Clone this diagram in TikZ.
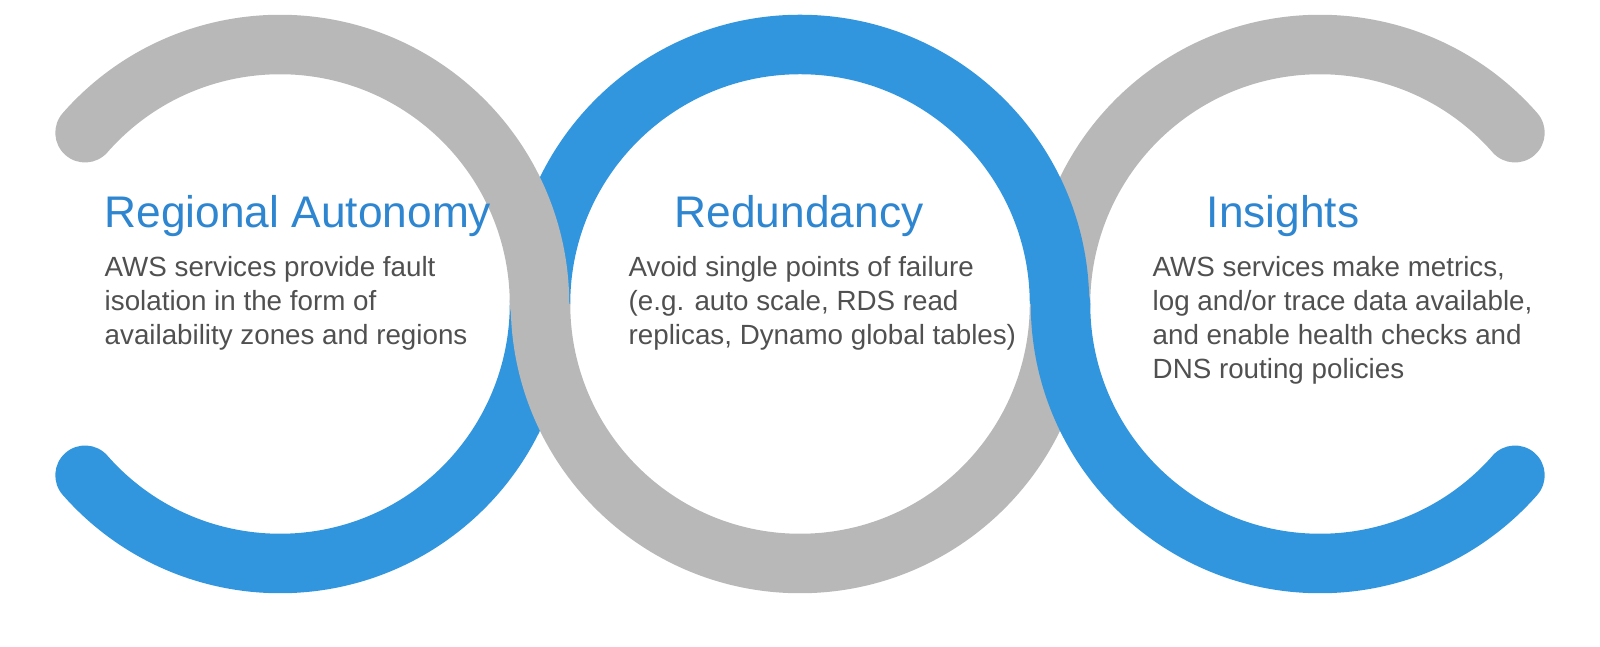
\documentclass[tikz,border=0pt]{standalone}
\usepackage{fontspec}
\setmainfont{Liberation Sans}
\begin{document}
\begin{tikzpicture}
\definecolor{ringblue}{HTML}{3196DD}
\definecolor{ringgray}{HTML}{B8B8B8}
\definecolor{titleblue}{HTML}{2E86D0}
\definecolor{bodygray}{HTML}{505050}
\tikzset{
 arcb/.style={line width=0.595cm,ringblue},
 arcg/.style={line width=0.595cm,ringgray},
 ttl/.style={text=titleblue,font=\fontsize{12.6}{15}\selectfont,inner sep=0},
 body/.style={text=bodygray,font=\fontsize{7.9}{9.68}\selectfont,align=left,anchor=north west,inner sep=0}
}
\useasboundingbox (0,0) rectangle (16,6.47);
\coordinate (L) at (2.80,3.43);
\coordinate (M) at (8.00,3.43);
\coordinate (R) at (13.20,3.43);
\def\rr{2.595}
% draw order for weaving
\draw[arcb,line cap=round] ([shift={(221.3:\rr)}]L) arc (221.3:360:\rr);
\draw[arcg,line cap=round] ([shift={(41.3:\rr)}]R) arc (41.3:180:\rr);
\draw[arcb] ([shift={(180:\rr)}]M) arc (180:0:\rr);
\draw[arcg] ([shift={(180:\rr)}]M) arc (180:360:\rr);
\draw[arcg,line cap=round] ([shift={(138.7:\rr)}]L) arc (138.7:0:\rr);
\draw[arcb,line cap=round] ([shift={(180:\rr)}]R) arc (180:318.7:\rr);
% texts
\node[ttl,anchor=base west] (t1) at (1.04,4.19) {Regional Autonomy};
\node[ttl,anchor=base] (t2) at (7.99,4.19) {Redundancy};
\node[ttl,anchor=base] (t3) at (12.83,4.19) {Insights};
\node[body] (b1) at (1.04,3.91) {AWS services provide fault\\isolation in the form of\\availability zones and regions};
\node[body] (b2) at (6.28,3.91) {Avoid single points of failure\\(e.g. auto scale, RDS read\\replicas, Dynamo global tables)};
\node[body] (b3) at (11.52,3.91) {AWS services make metrics,\\log and/or trace data available,\\and enable health checks and\\DNS routing policies};
\end{tikzpicture}
\end{document}
